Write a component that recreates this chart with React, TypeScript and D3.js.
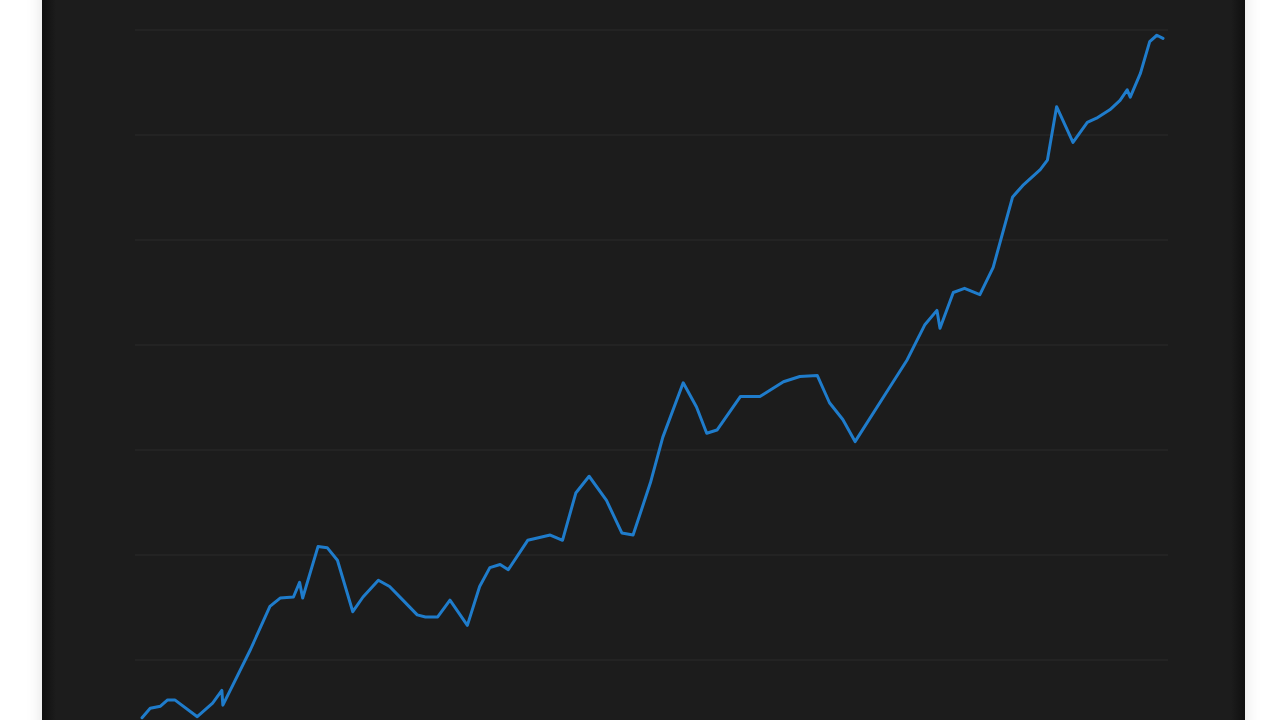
import React from "react";
import * as d3 from "d3";

const times: number[] = [
  0.2, 1.0, 2.0, 2.7, 3.4, 5.6, 7.1, 8.0, 8.1, 10.8, 12.7, 13.7, 15.0, 15.6, 15.9, 17.4, 18.3, 19.3, 20.8, 21.8,
  23.3, 24.4, 25.7, 27.1, 27.9, 29.1, 30.3, 32.0, 33.2, 34.2, 35.2, 36.0, 37.9, 40.1, 40.8, 41.3, 42.6, 43.9, 45.6, 47.1,
  48.2, 49.9, 51.1, 53.1, 54.4, 55.4, 56.4, 58.7, 60.6, 62.9, 64.5, 66.2, 67.4, 68.7, 69.9, 73.3, 75.0, 76.7, 77.9, 78.2,
  79.5, 80.6, 82.1, 83.4, 85.3, 86.3, 88.0, 88.7, 89.6, 91.2, 92.6, 93.5, 94.8, 95.8, 96.5, 96.8, 97.8, 98.7, 99.4, 100,
];

const values: number[] = [
  45, 54, 56, 62, 62, 46, 59, 71, 57, 110, 151, 159, 160, 174, 159, 208, 207, 195, 146, 160,
  176, 170, 157, 143, 141, 141, 157, 133, 170, 188, 191, 186, 214, 219, 216, 214, 259, 275, 252, 221,
  219, 269, 312, 364, 341, 316, 319, 351, 351, 365, 370, 371, 345, 329, 308, 360, 386, 419, 433, 416,
  450, 454, 448, 474, 541, 552, 567, 576, 627, 593, 612, 616, 624, 633, 643, 636, 659, 689, 695, 692,
];

const yTicks: number[] = [100, 200, 300, 400, 500, 600, 700];

export default function App() {
  const x = d3.scaleLinear().domain([0, 100]).range([140, 1163]);
  const y = d3.scaleLinear().domain([100, 700]).range([660, 30]);
  const pts: [number, number][] = times.map((t, i) => [t, values[i]]);
  const line = d3
    .line<[number, number]>()
    .x((d) => x(d[0]))
    .y((d) => y(d[1]))
    .curve(d3.curveLinear);

  return (
    <svg
      width={1280}
      height={720}
      style={{ position: "fixed", left: 0, top: 0, background: "#ffffff" }}
    >
      <defs>
        <filter id="sh" x="-5%" y="-5%" width="110%" height="110%">
          <feDropShadow dx="0" dy="0" stdDeviation="8" floodColor="#000" floodOpacity="0.12" />
        </filter>
        <linearGradient id="edgeL" x1="0" x2="1" y1="0" y2="0">
          <stop offset="0" stopColor="#0f0f0f" />
          <stop offset="1" stopColor="#1c1c1c" />
        </linearGradient>
        <linearGradient id="edgeR" x1="1" x2="0" y1="0" y2="0">
          <stop offset="0" stopColor="#0f0f0f" />
          <stop offset="1" stopColor="#1c1c1c" />
        </linearGradient>
      </defs>
      <rect x={0} y={0} width={1280} height={720} fill="#ffffff" />
      <rect x={42} y={-20} width={1203} height={760} fill="#1c1c1c" filter="url(#sh)" />
      <rect x={42} y={-20} width={14} height={760} fill="url(#edgeL)" />
      <rect x={1231} y={-20} width={14} height={760} fill="url(#edgeR)" />
      {yTicks.map((t) => (
        <line
          key={t}
          x1={135}
          x2={1168}
          y1={y(t)}
          y2={y(t)}
          stroke="#232323"
          strokeWidth={2}
        />
      ))}
      <path
        d={line(pts) || ""}
        fill="none"
        stroke="#1f7ccb"
        strokeWidth={3}
        strokeLinejoin="round"
        strokeLinecap="round"
      />
    </svg>
  );
}
